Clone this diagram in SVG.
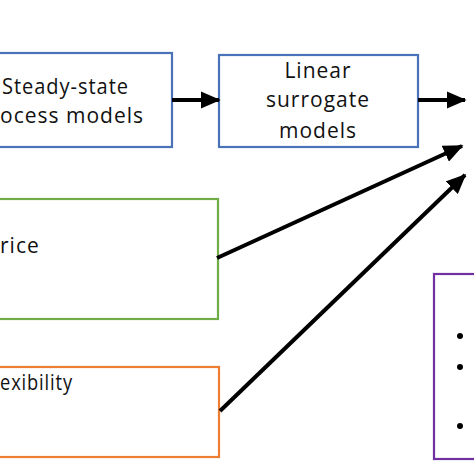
<svg xmlns="http://www.w3.org/2000/svg" width="474" height="474" viewBox="0 0 474 474">
<defs>
<marker id="ah" markerWidth="5" markerHeight="4.4" refX="4.6" refY="2.2" orient="auto" markerUnits="strokeWidth">
<path d="M0,0 L5,2.2 L0,4.4 Z" fill="#000"/>
</marker>
<style>
.box{fill:#fff;stroke-width:2.2}
.t{font-family:"Open Sans","Liberation Sans",sans-serif;font-size:21px;fill:#111;letter-spacing:1px}
.c{stroke:#000;stroke-width:4;fill:none;marker-end:url(#ah)}
</style>
</defs>
<rect width="474" height="474" fill="#fff"/>
<g id="n-steady">
<rect class="box" x="-20" y="53" width="192" height="94" stroke="#4A72B8"/>
<text class="t" x="2" y="94" textLength="127" lengthAdjust="spacingAndGlyphs">Steady-state</text>
<text class="t" x="144" y="123" text-anchor="end">ocess models</text>
</g>
<g id="n-linear">
<rect class="box" x="219" y="55" width="199" height="92" stroke="#4A72B8"/>
<text class="t" x="318" y="78" text-anchor="middle">Linear</text>
<text class="t" x="318" y="107" text-anchor="middle">surrogate</text>
<text class="t" x="318" y="138" text-anchor="middle">models</text>
</g>
<g id="n-price">
<rect class="box" x="-20" y="199" width="238" height="120" stroke="#70AD47"/>
<text class="t" x="0" y="253">rice</text>
</g>
<g id="n-flex">
<rect class="box" x="-20" y="367" width="239" height="90" stroke="#ED7D31"/>
<text class="t" x="0" y="390" letter-spacing="0" textLength="73" lengthAdjust="spacingAndGlyphs">exibility</text>
</g>
<g id="n-right">
<rect class="box" x="434" y="274" width="60" height="185" stroke="#7030A0" stroke-width="2.5"/>
<circle cx="460" cy="336" r="3" fill="#000"/>
<circle cx="460" cy="367" r="3" fill="#000"/>
<circle cx="460" cy="426" r="3" fill="#000"/>
</g>
<g id="connectors">
<line class="c" x1="172" y1="100" x2="219" y2="100"/>
<line class="c" x1="418" y1="100" x2="465" y2="100"/>
<line class="c" x1="217" y1="258" x2="462" y2="146"/>
<line class="c" x1="220" y1="411" x2="465" y2="175"/>
</g>
</svg>
